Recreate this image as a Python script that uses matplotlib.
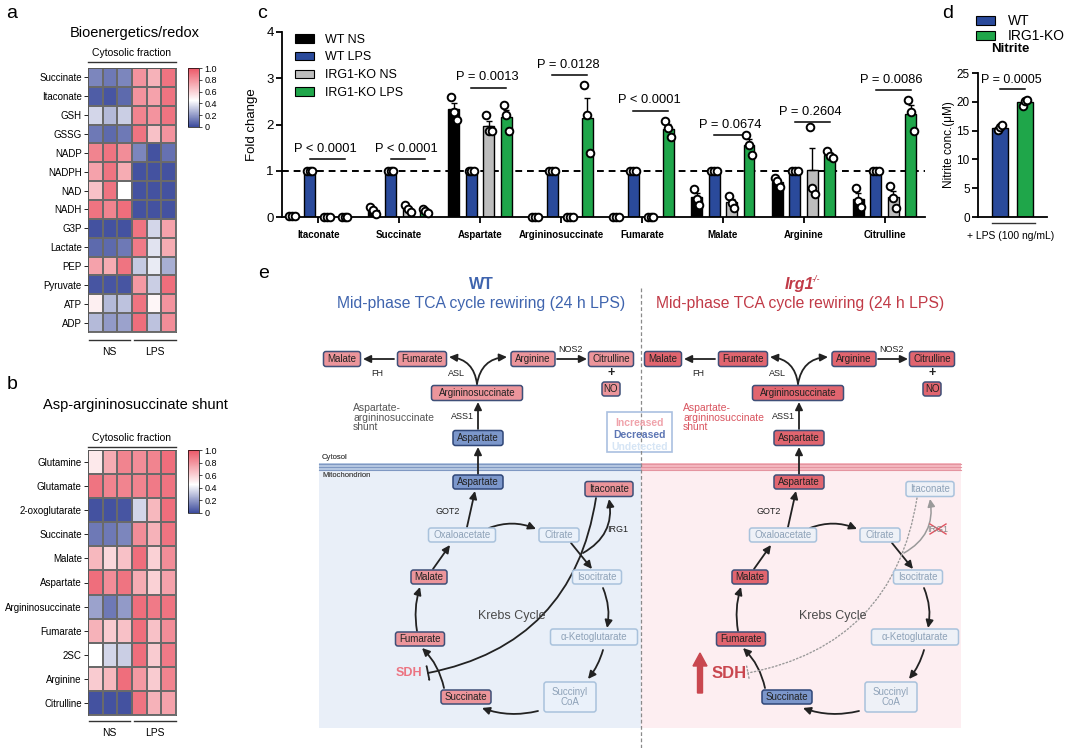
import numpy as np
import matplotlib
matplotlib.use('Agg')
import matplotlib.pyplot as plt
from matplotlib.colors import LinearSegmentedColormap
from matplotlib.patches import Patch, FancyBboxPatch, FancyArrowPatch, Rectangle, FancyArrow, ArrowStyle

plt.rcParams['font.family'] = ['Liberation Sans', 'DejaVu Sans']

W, H = 1080, 748
fig = plt.figure(figsize=(W / 100, H / 100), dpi=100)


def px_axes(x0, y0, x1, y1):
    return fig.add_axes([x0 / W, 1 - y1 / H, (x1 - x0) / W, (y1 - y0) / H])


# ---------------- data ----------------
a_rows = ['Succinate', 'Itaconate', 'GSH', 'GSSG', 'NADP', 'NADPH', 'NAD', 'NADH',
          'G3P', 'Lactate', 'PEP', 'Pyruvate', 'ATP', 'ADP']
a_vals = [[0.15, 0.12, 0.15, 0.80, 0.70, 0.90],
          [0.05, 0.03, 0.08, 0.80, 0.75, 0.90],
          [0.35, 0.28, 0.33, 0.85, 0.80, 0.90],
          [0.12, 0.08, 0.12, 0.90, 0.65, 0.80],
          [0.85, 0.90, 0.82, 0.15, 0.02, 0.10],
          [0.75, 0.90, 0.72, 0.02, 0.02, 0.02],
          [0.65, 0.90, 0.45, 0.02, 0.02, 0.02],
          [0.90, 0.85, 0.92, 0.02, 0.02, 0.02],
          [0.02, 0.02, 0.02, 0.90, 0.35, 0.75],
          [0.08, 0.08, 0.12, 0.88, 0.38, 0.72],
          [0.75, 0.72, 0.90, 0.32, 0.40, 0.25],
          [0.03, 0.03, 0.03, 0.78, 0.33, 0.92],
          [0.50, 0.28, 0.30, 0.90, 0.48, 0.80],
          [0.28, 0.20, 0.22, 0.92, 0.30, 0.82]]

b_rows = ['Glutamine', 'Glutamate', '2-oxoglutarate', 'Succinate', 'Malate', 'Aspartate',
          'Argininosuccinate', 'Fumarate', '2SC', 'Arginine', 'Citrulline']
b_vals = [[0.52, 0.72, 0.85, 0.82, 0.85, 0.92],
          [0.90, 0.85, 0.85, 0.85, 0.88, 0.90],
          [0.02, 0.02, 0.03, 0.35, 0.68, 0.92],
          [0.12, 0.12, 0.15, 0.82, 0.70, 0.90],
          [0.68, 0.58, 0.65, 0.92, 0.60, 0.82],
          [0.92, 0.82, 0.90, 0.72, 0.60, 0.75],
          [0.22, 0.12, 0.20, 0.92, 0.88, 0.90],
          [0.70, 0.62, 0.65, 0.92, 0.65, 0.82],
          [0.45, 0.35, 0.33, 0.92, 0.62, 0.88],
          [0.62, 0.68, 0.92, 0.78, 0.62, 0.85],
          [0.02, 0.02, 0.02, 0.90, 0.70, 0.75]]

c_metabolites = ['Itaconate', 'Succinate', 'Aspartate', 'Argininosuccinate', 'Fumarate',
                 'Malate', 'Arginine', 'Citrulline']
c_groups = ['WT NS', 'WT LPS', 'IRG1-KO NS', 'IRG1-KO LPS']
wt_ns = [[0.02, 0.02, 0.02], [0.22, 0.15, 0.07], [2.6, 2.28, 2.1], [0, 0, 0], [0, 0, 0],
         [0.6, 0.4, 0.27], [0.85, 0.78, 0.65], [0.62, 0.35, 0.22]]
wt_lps = [[1, 1, 1], [1, 1, 1], [1, 1, 1], [1, 1, 1], [1, 1, 1], [1, 1, 1], [1, 1, 1], [1, 1, 1]]
ko_ns = [[0, 0, 0], [0.25, 0.17, 0.1], [2.2, 1.85, 1.85], [0, 0, 0], [0, 0, 0],
         [0.45, 0.3, 0.2], [1.95, 0.62, 0.5], [0.68, 0.42, 0.2]]
ko_lps = [[0, 0, 0], [0.17, 0.12, 0.08], [2.42, 2.2, 1.87], [2.86, 2.2, 1.38], [2.08, 1.92, 1.73],
          [1.77, 1.56, 1.34], [1.43, 1.32, 1.27], [2.54, 2.26, 1.85]]
c_pvals = ['P < 0.0001', 'P < 0.0001', 'P = 0.0013', 'P = 0.0128', 'P < 0.0001',
           'P = 0.0674', 'P = 0.2604', 'P = 0.0086']

d_groups = ['WT', 'IRG1-KO']
nitrite_wt = [15.1, 15.6, 15.9]
nitrite_ko = [19.3, 20.1, 20.3]
d_pval = 'P = 0.0005'

# schematic: node labels and their status in each genotype
e_nodes = ['cyt_mal', 'cyt_fum', 'cyt_arg', 'cyt_cit', 'no', 'asa', 'cyt_asp', 'mit_asp', 'ita',
           'oaa', 'cit', 'iso', 'akg', 'scoa', 'suc', 'fum', 'mal']
e_labels = ['Malate', 'Fumarate', 'Arginine', 'Citrulline', 'NO', 'Argininosuccinate', 'Aspartate',
            'Aspartate', 'Itaconate', 'Oxaloacetate', 'Citrate', 'Isocitrate', 'α-Ketoglutarate',
            'Succinyl\nCoA', 'Succinate', 'Fumarate', 'Malate']
status_wt = ['up', 'up', 'up', 'up', 'up', 'up', 'down', 'down', 'up',
             'nd', 'nd', 'nd', 'nd', 'nd', 'up', 'up', 'up']
status_ko = ['up', 'up', 'up', 'up', 'up', 'up', 'up', 'up', 'nd',
             'nd', 'nd', 'nd', 'nd', 'nd', 'down', 'up', 'up']

# ---------------- overlay (text, panel e) ----------------
axo = fig.add_axes([0, 0, 1, 1])
axo.set_xlim(0, W)
axo.set_ylim(H, 0)
axo.axis('off')

for lab, (x, y) in zip('abcde', [(12, 13), (12, 384), (262, 13), (948, 13), (264, 273)]):
    axo.text(x, y, lab, fontsize=14, ha='center', va='center')

cmap = LinearSegmentedColormap.from_list('bwr_hm', [(0, '#3b4a9c'), (0.45, '#ffffff'), (1, '#ec5666')])


def heatmap(rect, cbrect, rows, vals, title, ty, cy, ly):
    ax = px_axes(*rect)
    m = ax.pcolormesh(np.array(vals), cmap=cmap, vmin=0, vmax=1, edgecolors='#6a6a6a', linewidth=0.3)
    ax.set_xlim(0, 6)
    ax.set_ylim(len(rows), 0)
    ax.set_xticks([])
    ax.set_yticks(np.arange(len(rows)) + 0.5)
    ax.set_yticklabels(rows, fontsize=7)
    ax.tick_params(axis='y', length=3, width=0.6, pad=1.5)
    for s in ax.spines.values():
        s.set_linewidth(0.6)
        s.set_color('#555555')
    cax = px_axes(*cbrect)
    cb = fig.colorbar(m, cax=cax, ticks=[0, 0.2, 0.4, 0.6, 0.8, 1.0])
    cb.ax.set_yticklabels(['0', '0.2', '0.4', '0.6', '0.8', '1.0'])
    cb.ax.tick_params(labelsize=6.5, length=2.5, width=0.5, pad=1.5)
    cb.outline.set_linewidth(0.5)
    x0, x1 = rect[0], rect[2]
    axo.text((x0 + x1) / 2 + 3, ty, title, fontsize=10.5, ha='center', va='center')
    axo.text((x0 + x1) / 2, cy - 9, 'Cytosolic fraction', fontsize=7.5, ha='center', va='center')
    axo.plot([x0, x1], [cy, cy], color='#333', lw=1)
    axo.plot([x0 + 1, 130], [ly, ly], color='#333', lw=1)
    axo.plot([134, x1], [ly, ly], color='#333', lw=1)
    axo.text(109, ly + 12, 'NS', fontsize=7.5, ha='center', va='center')
    axo.text(155, ly + 12, 'LPS', fontsize=7.5, ha='center', va='center')


heatmap((88, 68, 176, 332), (188, 68, 199, 127), a_rows, a_vals, 'Bioenergetics/redox', 33, 62, 340)
heatmap((88, 450, 176, 715), (188, 450, 199, 513), b_rows, b_vals, 'Asp-argininosuccinate shunt', 405, 447, 721)

# ---------------- panel c ----------------
axc = px_axes(282, 32, 925, 217)
c_colors = ['#000000', '#2a4a9b', '#bdbdbd', '#1fa64a']
offs = np.array([-1.5, -0.5, 0.5, 1.5]) * 0.216
jit = np.array([-0.035, 0.0, 0.035])
xg = np.arange(len(c_metabolites))
for gi, pts in enumerate([wt_ns, wt_lps, ko_ns, ko_lps]):
    arr = np.array(pts, dtype=float)
    mean = arr.mean(axis=1)
    sem = arr.std(axis=1, ddof=1) / np.sqrt(arr.shape[1])
    xb = xg + offs[gi]
    axc.bar(xb, mean, width=0.135, color=c_colors[gi], edgecolor='black', linewidth=1, zorder=2,
            label=c_groups[gi])
    axc.errorbar(xb, mean, yerr=[np.zeros_like(sem), sem], fmt='none', ecolor='black',
                 elinewidth=1, capsize=2.5, capthick=1, zorder=2.5)
    for k in range(arr.shape[1]):
        axc.plot(xb + jit[k], arr[:, k], 'o', ms=5.5, mfc='white', mec='black', mew=1.4,
                 zorder=3, clip_on=False)
axc.axhline(1, color='black', ls=(0, (3.5, 2.5)), lw=1.4, zorder=1)
p_line_y = [1.25, 1.25, 2.8, 3.06, 2.29, 1.77, 2.05, 2.74]
for i, (pt, py) in enumerate(zip(c_pvals, p_line_y)):
    axc.plot([i + offs[1], i + offs[3]], [py, py], color='black', lw=1.1)
    axc.text(i + offs[2] - 0.02, py + 0.1, pt, fontsize=9.3, ha='center', va='bottom')
axc.set_xlim(-0.45, 7.5)
axc.set_ylim(0, 4)
axc.set_yticks([0, 1, 2, 3, 4])
axc.set_xticks(xg)
axc.set_xticklabels(c_metabolites, fontsize=7, fontweight='bold')
axc.tick_params(axis='y', labelsize=9.5, length=4, width=1.3, pad=2)
axc.tick_params(axis='x', length=4, width=1.3, pad=5)
axc.spines['top'].set_visible(False)
axc.spines['right'].set_visible(False)
axc.spines['left'].set_linewidth(1.3)
axc.spines['bottom'].set_linewidth(1.3)
axc.set_ylabel('Fold change', fontsize=9.5, labelpad=6)
axc.legend(handles=[Patch(facecolor=c, edgecolor='black', lw=0.8) for c in c_colors], labels=c_groups,
           loc='upper left', bbox_to_anchor=(0.02, 0.99), frameon=False, fontsize=9,
           handlelength=1.5, handleheight=0.65, labelspacing=0.45, handletextpad=0.9,
           borderpad=0, borderaxespad=0)

# ---------------- panel d ----------------
axd = px_axes(978, 73, 1047, 217)
d_colors = ['#2a4a9b', '#1fa64a']
for gi, pts in enumerate([nitrite_wt, nitrite_ko]):
    arr = np.array(pts)
    axd.bar(gi, arr.mean(), width=0.64, color=d_colors[gi], edgecolor='black', lw=1, zorder=2)
    axd.errorbar(gi, arr.mean(), yerr=[[0], [arr.std(ddof=1) / np.sqrt(3)]], fmt='none',
                 ecolor='black', elinewidth=1, capsize=2.5, zorder=2.5)
    axd.plot(gi + jit * 2.5, arr, 'o', ms=5.5, mfc='white', mec='black', mew=1.4, zorder=3)
axd.plot([0, 1], [22.2, 22.2], color='black', lw=1.1)
axd.text(0.45, 22.8, d_pval, fontsize=9, ha='center', va='bottom')
axd.set_xlim(-0.88, 1.88)
axd.set_ylim(0, 25)
axd.set_yticks([0, 5, 10, 15, 20, 25])
axd.set_xticks([])
axd.tick_params(axis='y', labelsize=8.5, length=4, width=1.3, pad=2)
axd.spines['top'].set_visible(False)
axd.spines['right'].set_visible(False)
axd.spines['left'].set_linewidth(1.3)
axd.spines['bottom'].set_linewidth(1.3)
axd.set_ylabel('Nitrite conc.(μM)', fontsize=8.5, labelpad=1)
fig.legend(handles=[Patch(facecolor=c, edgecolor='black', lw=0.8) for c in d_colors], labels=d_groups,
           loc='upper left', bbox_to_anchor=(976 / W, 1 - 14 / H), frameon=False, fontsize=10,
           handlelength=1.4, handleheight=0.6, labelspacing=0.1, handletextpad=0.9,
           borderpad=0, borderaxespad=0)
axo.text(1010, 49, 'Nitrite', fontsize=9.5, fontweight='bold', ha='center', va='center')
axo.plot([992, 1035], [223, 223], color='#333', lw=1)
axo.text(1011, 236, '+ LPS (100 ng/mL)', fontsize=7.5, ha='center', va='center')

# ---------------- panel e ----------------
# layout of the left (WT) schematic in figure pixels: centre x, centre y, width, height
e_layout = {
    'cyt_mal': (342, 359, 37, 15), 'cyt_fum': (422, 359, 49, 15), 'cyt_arg': (533, 359, 44, 15),
    'cyt_cit': (611, 359, 45, 15), 'no': (611, 389, 18, 14), 'asa': (477, 393, 91, 15),
    'cyt_asp': (478, 438, 50, 15), 'mit_asp': (478, 482, 50, 14), 'ita': (609, 489, 48, 15),
    'oaa': (462, 535, 67, 14), 'cit': (559, 535, 40, 14), 'iso': (597, 577, 49, 14),
    'akg': (594, 637, 87, 16), 'scoa': (570, 697, 52, 30), 'suc': (466, 697, 50, 14),
    'fum': (420, 639, 49, 14), 'mal': (429, 577, 36, 14),
}
dark = '#222222'

# compartments
axo.add_patch(Rectangle((319, 470), 322, 258, fc='#e9eff8', ec='none', zorder=0))
axo.add_patch(Rectangle((641, 470), 320, 258, fc='#fdeef1', ec='none', zorder=0))
axo.add_patch(Rectangle((319, 463), 322, 7, fc='#b8c9e2', ec='none', zorder=0.5))
axo.add_patch(Rectangle((641, 463), 320, 7, fc='#f4b8c0', ec='none', zorder=0.5))
for yy in (463.5, 466.5, 469.5):
    axo.plot([319, 641], [yy, yy], color='#7f98c2', lw=0.8, zorder=0.6)
    axo.plot([641, 961], [yy, yy], color='#e494a0', lw=0.8, zorder=0.6)
axo.plot([641, 641], [288, 748], color='#8a8a8a', ls=(0, (3, 2)), lw=0.9, zorder=0.7)

axo.text(481, 284, 'WT', fontsize=11.5, fontweight='bold', color='#3f64ae', ha='center', va='center')
axo.text(481, 303, 'Mid-phase TCA cycle rewiring (24 h LPS)', fontsize=11.3, color='#3f64ae',
         ha='center', va='center')
axo.text(799, 284, 'Irg1', fontsize=11.5, fontweight='bold', style='italic', color='#c13a47',
         ha='center', va='center')
axo.text(812, 279, '-/-', fontsize=6.5, style='italic', color='#c13a47', ha='left', va='center')
axo.text(800, 303, 'Mid-phase TCA cycle rewiring (24 h LPS)', fontsize=11.3, color='#c13a47',
         ha='center', va='center')

# legend box
axo.add_patch(Rectangle((607, 412), 65, 40, fc='white', ec='#aac0e0', lw=1.2, zorder=0.65))
for t, c, yy in [('Increased', '#f0a3ab', 423), ('Decreased', '#5d76b4', 435), ('Undetected', '#d6e5f5', 447)]:
    axo.text(640, yy, t, fontsize=7.5, fontweight='bold', color=c, ha='center', va='center', zorder=0.8)


def arrow(p0, p1, rad=0.0, color=dark, lw=1.3, style='-|>,head_length=0.45,head_width=0.22', ls='-'):
    axo.add_patch(FancyArrowPatch(p0, p1, arrowstyle=style, mutation_scale=10, lw=lw, color=color,
                                  connectionstyle='arc3,rad=%s' % rad, shrinkA=0, shrinkB=0,
                                  linestyle=ls, zorder=1.5))


def draw_side(dx, status, up_fill, bg_nd, ko):
    for name, lab, st in zip(e_nodes, e_labels, status):
        cx, cy, w, h = e_layout[name]
        cx += dx
        if st == 'up':
            fc, ec, tc = up_fill, '#3f4f78', dark
        elif st == 'down':
            fc, ec, tc = '#7c97cb', '#2f4677', dark
        else:
            fc, ec, tc = bg_nd, '#a9c2dc', '#8ea2b8'
        axo.add_patch(FancyBboxPatch((cx - w / 2, cy - h / 2), w, h,
                                     boxstyle='round,pad=0,rounding_size=2.5',
                                     fc=fc, ec=ec, lw=1.1, zorder=2))
        axo.text(cx, cy, lab, fontsize=7, color=tc, ha='center', va='center', zorder=3,
                 linespacing=1.1)
    # cytosolic shunt
    arrow((394 + dx, 359), (363 + dx, 359))
    arrow((557 + dx, 359), (587 + dx, 359))
    arrow((477 + dx, 384), (449 + dx, 357), rad=0.4)
    arrow((477 + dx, 384), (507 + dx, 357), rad=-0.4)
    arrow((478 + dx, 429), (478 + dx, 402))
    arrow((478 + dx, 474), (478 + dx, 447))
    # TCA cycle
    arrow((467 + dx, 527), (475 + dx, 491))
    arrow((489 + dx, 528), (536 + dx, 529), rad=-0.2)
    arrow((571 + dx, 543), (592 + dx, 569), rad=0.0)
    arrow((603 + dx, 588), (607 + dx, 628), rad=-0.15)
    arrow((603 + dx, 650), (588 + dx, 679), rad=-0.1)
    arrow((538 + dx, 711), (482 + dx, 708), rad=-0.15)
    arrow((444 + dx, 688), (422 + dx, 648), rad=0.15)
    arrow((417 + dx, 631), (420 + dx, 587), rad=-0.12)
    arrow((433 + dx, 569), (450 + dx, 545), rad=0.0)
    axo.text(448 + dx, 511, 'GOT2', fontsize=6.5, color=dark, ha='center', va='center')
    axo.text(377 + dx, 373, 'FH', fontsize=6.5, color=dark, ha='center', va='center')
    axo.text(456 + dx, 373, 'ASL', fontsize=6.5, color=dark, ha='center', va='center')
    axo.text(570 + dx, 349, 'NOS2', fontsize=6.5, color=dark, ha='center', va='center')
    axo.text(611 + dx, 373, '+', fontsize=9, fontweight='bold', color=dark, ha='center', va='center')
    axo.text(462 + dx, 416, 'ASS1', fontsize=6.5, color=dark, ha='center', va='center')
    axo.text(512 + dx, 616, 'Krebs Cycle', fontsize=9, color='#4a4a4a', ha='center', va='center')
    if not ko:
        arrow((583, 553), (609, 499), rad=0.35)
        axo.text(618, 529, 'IRG1', fontsize=6.5, color=dark, ha='center', va='center')
        arrow((596, 498), (428, 673), rad=-0.35, style=ArrowStyle('-[', widthB=0.5, lengthB=0.01))
        axo.text(409, 673, 'SDH', fontsize=9, fontweight='bold', color='#ec7482', ha='center', va='center')
        axo.text(353, 403, 'Aspartate-\nargininosuccinate\nshunt', fontsize=7.5, color='#555555',
                 ha='left', va='top', linespacing=0.95)
    else:
        arrow((583 + dx, 553), (609 + dx, 499), rad=0.35, color='#9a9a9a', lw=1.1)
        axo.text(938, 529, 'IRG1', fontsize=6.5, color='#8a8a8a', ha='center', va='center')
        axo.plot([930, 946], [524, 534], color='#e0525f', lw=1)
        axo.plot([930, 946], [534, 524], color='#e0525f', lw=1)
        arrow((596 + dx, 498), (748, 673), rad=-0.35, color='#9a9a9a', lw=1, ls=':',
              style=ArrowStyle('-[', widthB=0.5, lengthB=0.01))
        axo.text(729, 673, 'SDH', fontsize=12, fontweight='bold', color='#c9474f', ha='center', va='center')
        axo.add_patch(FancyArrow(700, 693, 0, -40, width=5, head_width=14, head_length=13,
                                 length_includes_head=True, color='#c9474f', zorder=2))
        axo.text(683, 403, 'Aspartate-\nargininosuccinate\nshunt', fontsize=7.5, color='#d9545f',
                 ha='left', va='top', linespacing=0.95)
    axo.text(322, 457, 'Cytosol', fontsize=5.5, color='#555555', ha='left', va='center')
    axo.text(322, 475, 'Mitochondrion', fontsize=5.5, color='#555555', ha='left', va='center')


draw_side(0, status_wt, '#ec959b', '#eaf1fa', False)
draw_side(321, status_ko, '#e1656f', '#eef1f7', True)

fig.savefig('out.png', dpi=100)
